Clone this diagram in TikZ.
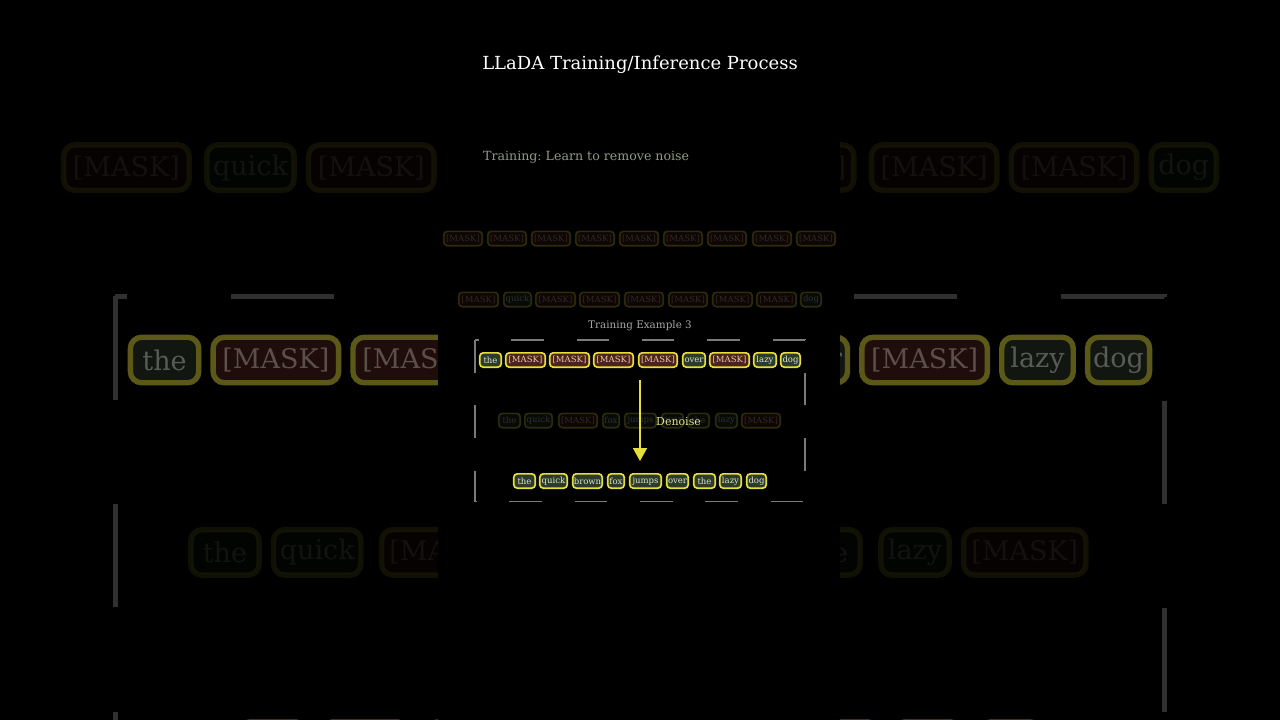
\documentclass[tikz,border=0pt]{standalone}
\usepackage{fontspec}
\setmainfont{DejaVu Serif}
\usetikzlibrary{arrows.meta}
\frenchspacing

\definecolor{tokedge}{HTML}{E6DE3A}
\definecolor{wordbg}{HTML}{2C3B2A}
\definecolor{maskbg}{HTML}{4C2219}
\definecolor{wordfg}{HTML}{DDE4D6}
\definecolor{maskfg}{HTML}{E6C4BA}
\definecolor{subgreen}{HTML}{8E9C86}
\definecolor{framegray}{HTML}{7A7A7A}
\definecolor{denoisefg}{HTML}{E4E48C}

\newcommand\msk{[MASK]}
\def\lwf{1}
\def\dashon{32.5pt}
\def\dashoff{32.8pt}

\tikzset{
  tok/.style={draw=tokedge, line width=1.7pt*\lwf, rounded corners=3.5pt*\lwf,
    inner sep=0pt, minimum height=14.3pt, font=\fontsize{8.5}{9}\selectfont},
  tokword/.style={tok, fill=wordbg, text=wordfg},
  tokmask/.style={tok, fill=maskbg, text=maskfg},
  faded/.style={opacity=0.18, text opacity=0.18},
  frame/.style={draw=framegray, line width=1.5pt*\lwf, dash pattern=on \dashon off \dashoff},
  denoisearrow/.style={draw=tokedge, line width=1.6pt*\lwf,
    -{Triangle[length=13pt,width=14pt,scale=\lwf]}},
}

% one frame of the panel, drawn twice (blown-up background and centre)
\newcommand\drawpanel{%
  % faded rows
  \begin{scope}[faded]
  \foreach \cx [count=\i] in {463,507,551,595,639,683,727,772,816}
    \node[tokmask, minimum width=38.5pt] (fa\i) at (\cx,238.5) {\msk};
  \foreach \cx/\w/\t/\k [count=\i] in {478.5/41/\msk/mask, 517.5/29/quick/word,
      555.5/41/\msk/mask, 599.5/41/\msk/mask, 644/40/\msk/mask, 688/40/\msk/mask,
      732.5/41/\msk/mask, 776.5/41/\msk/mask, 811/22/dog/word}
    \node[tok\k, minimum width={(\w-1.5)*1pt}] (fb\i) at (\cx,299.5) {\t};
  \foreach \cx/\w/\t/\k [count=\i] in {509.5/23/the/word, 538.5/29/quick/word,
      578/40/\msk/mask, 611/18/fox/word, 640.5/33/jumps/word, 672.5/23/over/word,
      698.5/23/the/word, 726.5/23/lazy/word, 761/40/\msk/mask}
    \node[tok\k, minimum width={(\w-1.5)*1pt}] (fc\i) at (\cx,420.5) {\t};
  \end{scope}
  % example frame
  \coordinate (fr-tl) at (475,340);
  \coordinate (fr-bl) at (475,501.5);
  \coordinate (fr-br) at (805,501.5);
  \coordinate (fr-tr) at (805,340);
  \draw[frame] (fr-tl) -- (fr-bl) -- (fr-br) -- (fr-tr) -- cycle;
  \node[text=black!35!white, font=\fontsize{10.4}{12}\selectfont, anchor=base, inner sep=0pt]
    (extitle) at (640,328) {Training Example 3};
  % masked input
  \foreach \cx/\w/\t/\k [count=\i] in {490.5/23/the/word, 525.5/41/\msk/mask,
      569.5/41/\msk/mask, 613.5/41/\msk/mask, 658/40/\msk/mask, 694/24/over/word,
      729.5/41/\msk/mask, 765/24/lazy/word, 790.5/21/dog/word}
    \node[tok\k, minimum width={(\w-1.5)*1pt}] (in\i) at (\cx,360) {\t};
  % denoised output
  \foreach \cx/\w/\t [count=\i] in {524.5/23/the, 553.5/29/quick, 587.5/31/brown,
      616/18/fox, 645.5/33/jumps, 677.5/23/over, 704.5/23/the, 730.5/23/lazy, 756.5/21/dog}
    \node[tokword, minimum width={(\w-1.5)*1pt}] (out\i) at (\cx,481) {\t};
  \coordinate (arr-s) at (640,380);
  \coordinate (arr-e) at (640,461);
  \draw[denoisearrow] (arr-s) -- (arr-e);
  \node[text=denoisefg, font=\fontsize{11}{13}\selectfont, anchor=base west, inner sep=0pt]
    (dn) at (656,425) {Denoise};
}

\begin{document}
\begin{tikzpicture}[x=1pt,y=-1pt]
\useasboundingbox (0,0) rectangle (1280,720);
\clip (0,0) rectangle (1280,720);
\fill[black] (0,0) rectangle (1280,720);
% blurred backdrop
\begin{scope}[scale around={3.18:(640,360)}, transform shape]
  \def\lwf{3.18}\def\dashon{103.35pt}\def\dashoff{104.3pt}
  \drawpanel
\end{scope}
\fill[black, opacity=0.6] (0,0) rectangle (1280,720);
\fill[black] (438,0) rectangle (840,720);
% centre panel
\drawpanel
\node[text=white, font=\fontsize{18}{20}\selectfont, anchor=base] (title) at (640,69.5)
  {LLaDA Training/Inference Process};
\node[text=subgreen, font=\fontsize{12.6}{14}\selectfont, anchor=base west, inner sep=0pt]
  (sub) at (483,160.5) {Training: Learn to remove noise};
\end{tikzpicture}
\end{document}
